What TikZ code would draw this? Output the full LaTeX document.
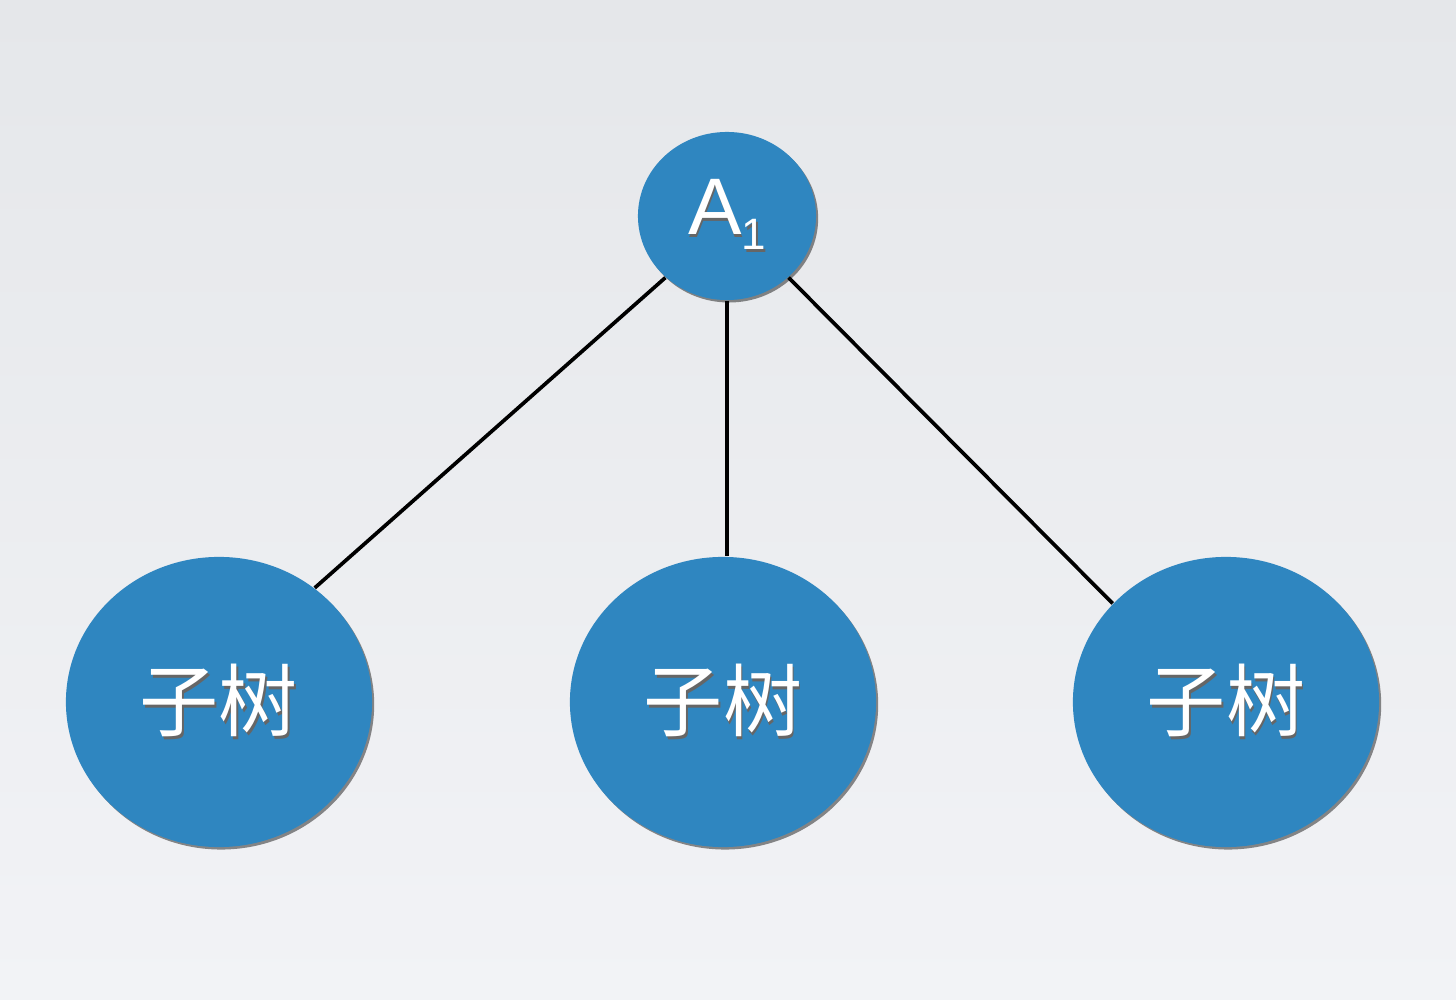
\documentclass[tikz,border=0pt]{standalone}
\usepackage{fontspec}
\setmainfont{Liberation Sans}
\newfontfamily\cjk{Noto Sans CJK SC}
\usetikzlibrary{shapes.geometric,shadows}
\definecolor{nodeblue}{HTML}{2F86C0}
\definecolor{bgtop}{HTML}{E5E7EA}
\definecolor{bgbot}{HTML}{F2F3F6}
\newcommand\shadowed[1]{\leavevmode\rlap{\hspace{0.5pt}\raisebox{-0.7pt}{\textcolor{black!60}{#1}}}#1}
\tikzset{
  treenode/.style={ellipse, fill=nodeblue, inner sep=0pt, text=white,
    drop shadow={shadow xshift=0.6pt, shadow yshift=-0.7pt, opacity=0.45, fill=black}},
  rootnode/.style={treenode, minimum width=1.78cm, minimum height=1.68cm, font=\fontsize{22.8pt}{24pt}\selectfont},
  subnode/.style={treenode, minimum width=3.06cm, minimum height=2.9cm, font=\cjk\fontsize{22.5pt}{24pt}\selectfont},
  edge/.style={draw=black, line width=1.05pt}
}
\begin{document}
\begin{tikzpicture}[x=0.01cm, y=-0.01cm]
\shade[top color=bgtop, bottom color=bgbot] (0,0) rectangle (1456,1000);
\useasboundingbox (0,0) rectangle (1456,1000);
\node[rootnode] (root) at (727,216) {\shadowed{A\raisebox{-0.35ex}{\fontsize{12.5pt}{14pt}\selectfont 1}}};
\node[subnode] (left) at (219,702) {\shadowed{子树}};
\node[subnode] (mid) at (723,702) {\shadowed{子树}};
\node[subnode] (right) at (1226,702) {\shadowed{子树}};
\draw[edge] (root.-135) -- (left.50);
\draw[edge] (root.south) -- (root.south |- mid.north);
\draw[edge] (root.-45) -- (right.139);
\end{tikzpicture}
\end{document}
